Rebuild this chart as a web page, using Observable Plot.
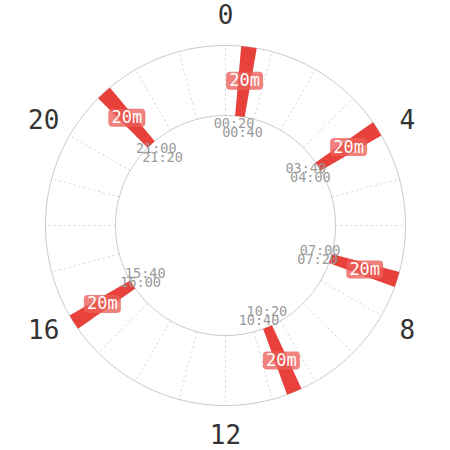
<!DOCTYPE html>
<html>
<head>
<meta charset="utf-8">
<script src="https://cdn.jsdelivr.net/npm/d3@7"></script>
<script src="https://cdn.jsdelivr.net/npm/@observablehq/plot@0.6"></script>
<style>
  html, body { margin: 0; padding: 0; background: #fff; }
</style>
</head>
<body>
<div id="chart"></div>
<script>
// ---- data ----
const starts = ["00:20", "03:40", "07:00", "10:20", "15:40", "21:00"];
const ends   = ["00:40", "04:00", "07:20", "10:40", "16:00", "21:20"];
const hourTicks = [0, 4, 8, 12, 16, 20];
const gridHours = d3.range(0, 24);

// ---- layout (pixels relative to outer radius 180) ----
const OUTER = 180, INNER = 110, LABEL_R = 146, TIME_R = 98, HOUR_R = 210, HALF = 225;
const u = px => px / OUTER;

const toHours = s => { const [h, m] = s.split(":").map(Number); return h + m / 60; };
const angle = d3.scaleLinear().domain([0, 24]).range([0, 2 * Math.PI]);
const polar = (h, r) => ({ x: r * Math.sin(angle(h)), y: r * Math.cos(angle(h)) });

const bars = starts.map((s, i) => {
  const a = toHours(s), b = toHours(ends[i]);
  return { id: i, start: a, end: b, startLabel: s, endLabel: ends[i],
           dur: Math.round((b - a) * 60) + "m", mid: (a + b) / 2 };
});

const sectorPts = bars.flatMap(b => {
  const n = 10, pts = [];
  for (let k = 0; k <= n; k++) pts.push({ id: b.id, ...polar(b.start + (b.end - b.start) * k / n, u(OUTER)) });
  for (let k = n; k >= 0; k--) pts.push({ id: b.id, ...polar(b.start + (b.end - b.start) * k / n, u(INNER)) });
  return pts;
});

const ringPts = [INNER, OUTER].flatMap(r =>
  d3.range(0, 24, 0.05).map(h => ({ ring: r, ...polar(h, u(r)) })));

const gridLines = gridHours.map(h => {
  const a = polar(h, u(INNER)), b = polar(h, u(OUTER));
  return { x1: a.x, y1: a.y, x2: b.x, y2: b.y };
});

const labelPts = bars.map(b => ({ ...polar(b.mid, u(LABEL_R)), text: b.dur }));
const startPts = bars.map(b => ({ x: polar(b.start, u(TIME_R)).x, y: polar(b.mid, u(TIME_R)).y, text: b.startLabel }));
const endPts = bars.map(b => ({ x: polar(b.end, u(TIME_R)).x, y: polar(b.mid, u(TIME_R)).y, text: b.endLabel }));
const hourPts = hourTicks.map(h => ({ ...polar(h, u(HOUR_R)), text: String(h) }));

const roundRect = {
  draw(ctx) {
    const w = 37, h = 18, r = 4, x = -w / 2, y = -h / 2;
    ctx.moveTo(x + r, y);
    ctx.lineTo(x + w - r, y);
    ctx.arcTo(x + w, y, x + w, y + r, r);
    ctx.lineTo(x + w, y + h - r);
    ctx.arcTo(x + w, y + h, x + w - r, y + h, r);
    ctx.lineTo(x + r, y + h);
    ctx.arcTo(x, y + h, x, y + h - r, r);
    ctx.lineTo(x, y + r);
    ctx.arcTo(x, y, x + r, y, r);
    ctx.closePath();
  }
};

const mono = "DejaVu Sans Mono";
const chart = Plot.plot({
  width: 450,
  height: 450,
  margin: 0,
  x: { domain: [-u(HALF), u(HALF)], axis: null },
  y: { domain: [-u(HALF), u(HALF)], axis: null },
  style: { fontFamily: mono, background: "#fff" },
  marks: [
    Plot.link(gridLines, { x1: "x1", y1: "y1", x2: "x2", y2: "y2", stroke: "#d4d4d4", strokeDasharray: "2,3", strokeWidth: 1 }),
    Plot.line(ringPts, { x: "x", y: "y", z: "ring", stroke: "#c8c8c8", strokeWidth: 1, curve: "linear-closed" }),
    Plot.line(sectorPts, { x: "x", y: "y", z: "id", fill: "#e8403a", stroke: "none", curve: "linear-closed" }),
    Plot.text(startPts, { x: "x", y: "y", text: "text", dy: -4.5, fontSize: 13.5, fill: "#9a9a9a", fontFamily: mono }),
    Plot.text(endPts, { x: "x", y: "y", text: "text", dy: 4.5, fontSize: 13.5, fill: "#9a9a9a", fontFamily: mono }),
    Plot.dot(labelPts, { x: "x", y: "y", symbol: roundRect, fill: "#ec5d58", fillOpacity: 0.78, stroke: "none" }),
    Plot.text(labelPts, { x: "x", y: "y", text: "text", fontSize: 17, fill: "#fff", fontFamily: mono }),
    Plot.text(hourPts, { x: "x", y: "y", text: "text", fontSize: 26, fill: "#333", fontFamily: mono })
  ]
});
document.getElementById("chart").appendChild(chart);
</script>
</body>
</html>
